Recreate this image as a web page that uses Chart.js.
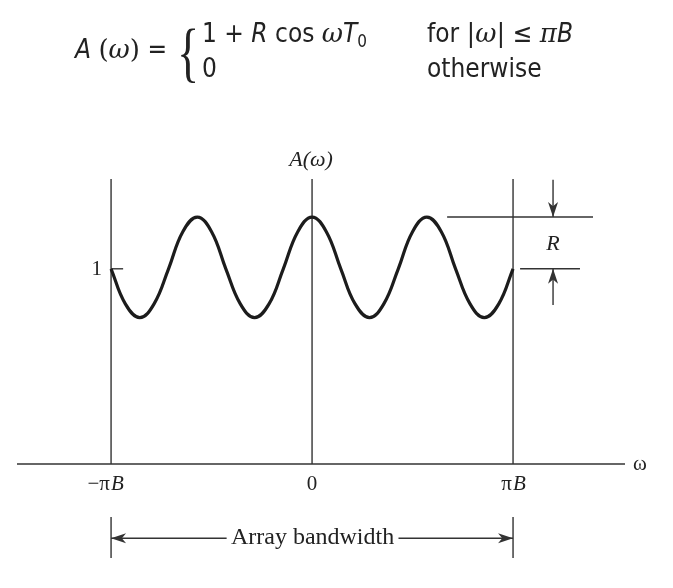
<!DOCTYPE html>
<html>
<head>
<meta charset="utf-8">
<script src="https://cdn.jsdelivr.net/npm/chart.js@4"></script>
<style>
  body { margin: 0; background: #fff; }
  #wrap { position: relative; width: 673px; height: 588px; }
  #plot { position: absolute; left: 0; top: 0; }
  .eq { position: absolute; font-family: "DejaVu Sans Condensed", "DejaVu Sans", sans-serif; font-size: 26px; line-height: 26px; color: #222; white-space: nowrap; }
  .it { font-style: italic; }
  .m { font-family: "DejaVu Serif", serif; font-style: italic; }
  .s { font-family: "DejaVu Serif", serif; }
  sub { font-size: 17px; vertical-align: -5px; }
</style>
</head>
<body>
<div id="wrap">
  <canvas id="plot" width="673" height="588"></canvas>
  <div class="eq" style="left:75px; top:36px;"><span class="it">A</span> <span class="s">(</span><span class="m">ω</span><span class="s">)</span> =</div>
  <div class="eq" style="left:177px; top:19px; font-family:'Liberation Serif',serif; font-size:66px; line-height:66px; transform:scaleX(0.7); transform-origin:left;">{</div>
  <div class="eq" style="left:202px; top:20px;">1 + <span class="it">R</span> cos <span class="m">ω</span><span class="it">T</span><sub>0</sub></div>
  <div class="eq" style="left:202px; top:55px;">0</div>
  <div class="eq" style="left:427px; top:20px;">for <span class="s">|</span><span class="m">ω</span><span class="s">|</span> ≤ <span class="m">π</span><span class="it">B</span></div>
  <div class="eq" style="left:427px; top:55px;">otherwise</div>
</div>
<script>
// frequency axis in units of pi*B, amplitude
const omegaPts = [-1, -0.929, -0.857, -0.786, -0.714, -0.643, -0.571, -0.5, -0.429, -0.357, -0.286, -0.214, -0.143, -0.071, 0,
                  0.071, 0.143, 0.214, 0.286, 0.357, 0.429, 0.5, 0.571, 0.643, 0.714, 0.786, 0.857, 0.929, 1];
const ampVals = [1.0, 0.82, 0.75, 0.82, 1.0, 1.19, 1.265, 1.19, 1.0, 0.82, 0.75, 0.82, 1.0, 1.19, 1.265,
                 1.19, 1.0, 0.82, 0.75, 0.82, 1.0, 1.19, 1.265, 1.19, 1.0, 0.82, 0.75, 0.82, 1.0];
const xTickVals = [-1, 0, 1];
const xTickLabels = ['−πB', '0', 'πB'];
const peakLevel = 1.265;   // 1 + R
const unitLevel = 1;

const X_MIN = -1.468, X_MAX = 1.557, Y_MAX = 1.46;
const ink = '#333';
const serif = '"Liberation Serif", serif';

function seg(x1, y1, x2, y2, w) {
  return {
    data: [{x: x1, y: y1}, {x: x2, y: y2}],
    borderColor: ink, borderWidth: w || 1.4,
    pointRadius: 0, showLine: true, clip: false
  };
}

const datasets = [
  {
    data: omegaPts.map((x, i) => ({x: x, y: ampVals[i]})),
    borderColor: '#1c1c1c', borderWidth: 3.2,
    pointRadius: 0, showLine: true, tension: 0.42, clip: false
  },
  seg(X_MIN, 0, X_MAX, 0, 1.6),
  ...xTickVals.map(v => seg(v, 0, v, Y_MAX)),
  seg(-1, unitLevel, -0.94, unitLevel),
  seg(0.672, peakLevel, 1.398, peakLevel),
  seg(1.035, unitLevel, 1.333, unitLevel),
  seg(1.199, 1.456, 1.199, peakLevel),
  seg(1.199, 0.815, 1.199, unitLevel),
  seg(-1, -0.272, -1, -0.482),
  seg(1, -0.272, 1, -0.482),
  seg(-1, -0.38, -0.425, -0.38),
  seg(0.43, -0.38, 1, -0.38)
];

function arrowHead(ctx, x, y, dx, dy) {
  const L = 15, W = 5;
  const px = -dy, py = dx;
  ctx.beginPath();
  ctx.moveTo(x, y);
  ctx.lineTo(x - dx * L + px * W, y - dy * L + py * W);
  ctx.lineTo(x - dx * L * 0.72, y - dy * L * 0.72);
  ctx.lineTo(x - dx * L - px * W, y - dy * L - py * W);
  ctx.closePath();
  ctx.fill();
}

const annotate = {
  id: 'annotate',
  afterDatasetsDraw(chart) {
    const ctx = chart.ctx;
    const xs = chart.scales.x, ys = chart.scales.y;
    ctx.save();
    ctx.fillStyle = '#222';
    ctx.textBaseline = 'middle';

    // tick labels under the axis: centre the "πB" part on the tick
    const yLab = ys.getPixelForValue(0) + 20;
    xTickLabels.forEach((lab, i) => {
      const px = xs.getPixelForValue(xTickVals[i]);
      ctx.font = '21px ' + serif;
      if (lab === '0') {
        ctx.textAlign = 'center';
        ctx.fillText(lab, px, yLab);
        return;
      }
      const pre = lab.slice(0, lab.length - 1);
      const wPi = ctx.measureText('π').width;
      const wPre = ctx.measureText(pre).width;
      ctx.font = 'italic 21px ' + serif;
      const wB = ctx.measureText('B').width;
      const start = px - (wPi + wB) / 2 - (wPre - wPi);
      ctx.textAlign = 'left';
      ctx.font = '21px ' + serif;
      ctx.fillText(pre, start, yLab);
      ctx.font = 'italic 21px ' + serif;
      ctx.fillText('B', start + wPre + 1, yLab);
    });

    ctx.font = '21px ' + serif;
    ctx.textAlign = 'right';
    ctx.fillText('1', xs.getPixelForValue(-1) - 9, ys.getPixelForValue(unitLevel) + 1);

    ctx.textAlign = 'left';
    ctx.fillText('ω', xs.getPixelForValue(X_MAX) + 8, ys.getPixelForValue(0));

    ctx.font = 'italic 22px ' + serif;
    ctx.textAlign = 'center';
    ctx.fillText('A(ω)', xs.getPixelForValue(0) - 1, ys.getPixelForValue(Y_MAX) - 19);
    ctx.fillText('R', xs.getPixelForValue(1.199), ys.getPixelForValue((peakLevel + unitLevel) / 2) + 1);

    ctx.font = '24px ' + serif;
    ctx.fillText('Array bandwidth', (xs.getPixelForValue(-0.425) + xs.getPixelForValue(0.43)) / 2, ys.getPixelForValue(-0.38));

    ctx.fillStyle = ink;
    const ax = xs.getPixelForValue(1.199);
    arrowHead(ctx, ax, ys.getPixelForValue(peakLevel), 0, 1);
    arrowHead(ctx, ax, ys.getPixelForValue(unitLevel), 0, -1);
    const ay = ys.getPixelForValue(-0.38);
    arrowHead(ctx, xs.getPixelForValue(1), ay, 1, 0);
    arrowHead(ctx, xs.getPixelForValue(-1), ay, -1, 0);
    ctx.restore();
  }
};

new Chart(document.getElementById('plot'), {
  type: 'scatter',
  data: { datasets: datasets },
  options: {
    responsive: false,
    animation: false,
    layout: { padding: { left: 17, right: 48, top: 179, bottom: 124 } },
    scales: {
      x: { type: 'linear', min: X_MIN, max: X_MAX, display: false },
      y: { type: 'linear', min: 0, max: Y_MAX, display: false }
    },
    plugins: { legend: { display: false }, tooltip: { enabled: false } }
  },
  plugins: [annotate]
});
</script>
</body>
</html>
